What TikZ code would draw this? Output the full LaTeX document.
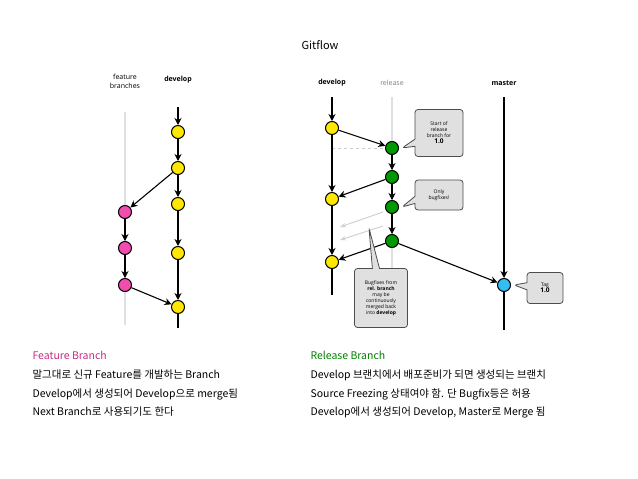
\documentclass[tikz,border=0pt]{standalone}
\usepackage{fontspec}
\setmainfont{Noto Sans CJK KR}
\newfontfamily\lab{Open Sans}
\usetikzlibrary{arrows.meta,shapes.callouts}
\begin{document}
\begin{tikzpicture}[x=1pt,y=-1pt,
 commitnode/.style={circle,draw=black,line width=1pt,minimum size=13pt,inner sep=0},
 yel/.style={commitnode,fill=yellow!90!orange},
 pink/.style={commitnode,fill=magenta!70},
 grn/.style={commitnode,fill=green!60!black},
 cyn/.style={commitnode,fill=cyan!80},
 ar/.style={-{Stealth[length=7pt,width=7pt]},line width=1.1pt},
 gar/.style={-{Stealth[length=6pt]},line width=1pt,black!18},
 lane/.style={line width=1.2pt},
 glane/.style={line width=2pt,black!12},
 bub/.style={rectangle callout,draw=black!70,fill=black!12,rounded corners=3pt,align=center,font=\lab\fontsize{5}{6}\selectfont,line width=0.8pt},
 hd/.style={font=\lab\bfseries\fontsize{7}{8}\selectfont},
 txt/.style={anchor=west,font=\fontsize{10.5}{12}\selectfont}]
\useasboundingbox (0,0) rectangle (638,479);
\node (title) at (320,45) {\fontsize{11}{13}\selectfont Gitflow};
% left
\node[font=\lab\fontsize{7}{9}\selectfont,align=center] (fl) at (125,81) {feature\\branches};
\node[hd] (dl) at (178,80) {develop};
\coordinate (ft) at (125,112); \coordinate (fb) at (125,325);
\draw[glane] (ft) -- (fb);
\coordinate (d0) at (178,107);
\node[yel] (d1) at (178,132) {}; \node[yel] (d2) at (178,168) {};
\node[yel] (d3) at (178,204) {}; \node[yel] (d4) at (178,253) {};
\node[yel] (d5) at (178,307) {}; \coordinate (d6) at (178,328);
\node[pink] (f1) at (125,212) {}; \node[pink] (f2) at (125,248) {};
\node[pink] (f3) at (125,285) {};
\draw[ar] (d0)--(d1); \draw[ar] (d1)--(d2); \draw[ar] (d2)--(d3);
\draw[ar] (d3)--(d4); \draw[ar] (d4)--(d5); \draw[lane] (d5)--(d6);
\draw[ar] (d2)--(f1); \draw[ar] (f1)--(f2); \draw[ar] (f2)--(f3); \draw[ar] (f3)--(d5);
% right
\node[hd] (rdl) at (332,83) {develop};
\node[font=\lab\fontsize{7}{8}\selectfont,black!50] (rl) at (392,83) {release};
\node[hd] (ml) at (504,83) {master};
\coordinate (rt) at (392,97); \coordinate (rb) at (392,268);
\draw[glane] (rt)--(rb);
\coordinate (a0) at (332,97); \coordinate (a4) at (332,295);
\node[yel] (a1) at (332,128) {}; \node[yel] (a2) at (332,199) {}; \node[yel] (a3) at (332,262) {};
\node[grn] (r1) at (392,148) {}; \node[grn] (r2) at (392,177) {};
\node[grn] (r3) at (392,207) {}; \node[grn] (r4) at (392,241) {};
\coordinate (m0) at (504,97); \coordinate (m2) at (504,330);
\node[cyn] (m1) at (504,285) {};
\draw[dashed,black!20,line width=1pt] (332,148) -- (r1);
\draw[ar] (a0)--(a1); \draw[ar] (a1)--(a2); \draw[ar] (a2)--(a3); \draw[lane] (a3)--(a4);
\draw[ar] (a1)--(r1); \draw[ar] (r1)--(r2); \draw[ar] (r2)--(r3); \draw[ar] (r3)--(r4);
\draw[ar] (r2)--(a2); \draw[ar] (r4)--(a3); \draw[ar] (r4)--(m1);
\coordinate (g1) at (383,212); \coordinate (g2) at (340,227);
\coordinate (g3) at (383,226); \coordinate (g4) at (340,240);
\draw[gar] (g1)--(g2); \draw[gar] (g3)--(g4);
\draw[ar] (m0)--(m1); \draw[lane] (m1)--(m2);
\node[bub,minimum width=48pt,minimum height=47pt,callout absolute pointer={(402,148)}] (c1) at (439,133) {Start of\\release\\branch for\\{\bfseries\fontsize{6.5}{7.5}\selectfont 1.0}};
\node[bub,minimum width=48pt,minimum height=30pt,callout absolute pointer={(402,207)}] (c2) at (439,195) {Only\\bugfixes!};
\node[bub,minimum width=53pt,minimum height=59pt,callout absolute pointer={(369,228)}] (c3) at (381,298) {Bugfixes from\\\textbf{rel. branch}\\may be\\continuously\\merged back\\into \textbf{develop}};
\node[bub,minimum width=36pt,minimum height=31pt,callout absolute pointer={(514,285)}] (c4) at (545,288) {Tag\\{\bfseries\fontsize{6.5}{7.5}\selectfont 1.0}};
% texts
\node[txt,text=magenta!80!black] (t1) at (29,355) {Feature Branch};
\node[txt] (t2) at (29,375) {말그대로 신규 Feature를 개발하는 Branch};
\node[txt] (t3) at (29,394) {Develop에서 생성되어 Develop으로 merge됨};
\node[txt] (t4) at (29,412) {Next Branch로 사용되기도 한다};
\node[txt,text=green!50!black] (u1) at (307,355) {Release Branch};
\node[txt] (u2) at (307,375) {Develop 브랜치에서 배포준비가 되면 생성되는 브랜치};
\node[txt] (u3) at (307,394) {Source Freezing 상태여야 함. 단 Bugfix등은 허용};
\node[txt] (u4) at (307,412) {Develop에서 생성되어 Develop, Master로 Merge 됨};
\end{tikzpicture}
\end{document}
